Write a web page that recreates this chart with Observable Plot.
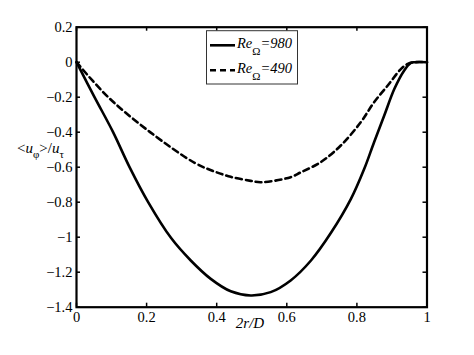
<!DOCTYPE html>
<html>
<head>
<meta charset="utf-8">
<script src="https://cdn.jsdelivr.net/npm/d3@7"></script>
<script src="https://cdn.jsdelivr.net/npm/@observablehq/plot@0.6"></script>
<style>
  html, body { margin: 0; padding: 0; background: #fff; }
  #wrap { position: relative; width: 474px; height: 355px; }
  #chart svg text { font-family: "Liberation Serif", "Times New Roman", serif !important; fill: #000; }
  .serif { font-family: "Liberation Serif", serif; color: #000 !important; }
  #ylab { position: absolute; left: 17px; top: 140px; font-size: 15px; white-space: nowrap; }
  #ylab i { font-style: italic; color: #000; }
  #ylab sub { font-size: 11px; vertical-align: -5px; line-height: 0; color: #000; }
</style>
</head>
<body>
<div id="wrap">
  <div id="chart"></div>
  <div id="ylab" class="serif">&lt;<i>u</i><sub>φ</sub>&gt;/<i>u</i><sub>τ</sub></div>
</div>
<script>
// Re_Ω = 980 (solid)
const x980 = [0, 0.051, 0.104, 0.151, 0.204, 0.270, 0.326, 0.383, 0.44, 0.497, 0.554, 0.611, 0.669, 0.726, 0.783, 0.821, 0.849, 0.878, 0.907, 0.935, 0.954, 0.965, 1];
const y980 = [0, -0.198, -0.398, -0.598, -0.798, -1.005, -1.133, -1.238, -1.309, -1.333, -1.314, -1.247, -1.133, -0.975, -0.781, -0.609, -0.457, -0.305, -0.152, -0.047, -0.004, 0, 0];
// Re_Ω = 490 (dashed)
const x490 = [0, 0.0895, 0.209, 0.337, 0.39, 0.44, 0.497, 0.526, 0.611, 0.64, 0.697, 0.754, 0.811, 0.849, 0.888, 0.926, 0.945, 0.965, 1];
const y490 = [0, -0.198, -0.398, -0.575, -0.622, -0.655, -0.678, -0.686, -0.657, -0.629, -0.571, -0.476, -0.343, -0.229, -0.133, -0.038, -0.01, 0, 0];
const seriesNames = ["980", "490"];
const xTicks = [0, 0.2, 0.4, 0.6, 0.8, 1];
const yTicks = [0.2, 0, -0.2, -0.4, -0.6, -0.8, -1, -1.2, -1.4];
const fmt = d => d === 0 ? "0" : (d < 0 ? "\u2212" : "") + String(Math.abs(d));

const d980 = x980.map((x, i) => ({x, y: y980[i]}));
const d490 = x490.map((x, i) => ({x, y: y490[i]}));

const FONT = "Liberation Serif, Times New Roman, serif";
const W = 474, H = 355, ML = 76, MR = 47.5, MT = 26.7, MB = 48.3;
const innerW = W - ML - MR, innerH = H - MT - MB;
const TL = 4;

const plot = Plot.plot({
  width: W,
  height: H,
  marginLeft: ML,
  marginRight: MR,
  marginTop: MT,
  marginBottom: MB,
  x: {domain: [0, 1]},
  y: {domain: [-1.4, 0.2]},
  marks: [
    Plot.line(d980, {x: "x", y: "y", stroke: "#000", strokeWidth: 2.6, curve: "catmull-rom"}),
    Plot.line(d490, {x: "x", y: "y", stroke: "#000", strokeWidth: 2.6, strokeDasharray: "6,4", curve: "catmull-rom"}),
    Plot.axisX(xTicks, {anchor: "bottom", tickSize: 0, tickPadding: 5, tickFormat: fmt, fontSize: 14.5, fontFamily: FONT, fill: "#000", label: null}),
    Plot.axisY(yTicks, {anchor: "left", tickSize: 0, tickPadding: 4, tickFormat: fmt, fontSize: 14.5, fontFamily: FONT, fill: "#000", label: null}),
    Plot.tickX(xTicks, {x: d => d, insetTop: innerH - TL, stroke: "#000", strokeWidth: 1.5}),
    Plot.tickX(xTicks, {x: d => d, insetBottom: innerH - TL, stroke: "#000", strokeWidth: 1.5}),
    Plot.tickY(yTicks, {y: d => d, insetRight: innerW - TL, stroke: "#000", strokeWidth: 1.5}),
    Plot.tickY(yTicks, {y: d => d, insetLeft: innerW - TL, stroke: "#000", strokeWidth: 1.5}),
    Plot.frame({stroke: "#000", strokeWidth: 2.2})
  ]
});
document.getElementById("chart").appendChild(plot);

const svg = d3.select(plot);
// x-axis label
svg.append("text")
  .attr("x", 250).attr("y", 328)
  .attr("text-anchor", "middle")
  .attr("font-family", FONT)
  .attr("font-style", "italic")
  .attr("font-size", 15)
  .attr("fill", "#000")
  .text("2r/D");

// legend
const lg = svg.append("g");
lg.append("rect").attr("x", 206.5).attr("y", 30.7).attr("width", 91).attr("height", 53.3)
  .attr("fill", "#fff").attr("stroke", "#333").attr("stroke-width", 1);
const rows = [{name: seriesNames[0], dash: null, ly: 45.3}, {name: seriesNames[1], dash: "6,4", ly: 70.3}];
rows.forEach(r => {
  lg.append("line").attr("x1", 210).attr("x2", 235).attr("y1", r.ly).attr("y2", r.ly)
    .attr("stroke", "#000").attr("stroke-width", 2.6).attr("stroke-dasharray", r.dash);
  const t = lg.append("text").attr("x", 237).attr("y", r.ly + 2.5)
    .attr("text-anchor", "start")
    .attr("font-family", FONT).attr("font-style", "italic").attr("font-size", 14.5).attr("fill", "#000");
  t.append("tspan").text("Re");
  t.append("tspan").attr("dy", 7.5).attr("font-style", "normal").attr("font-size", 11).text("Ω");
  t.append("tspan").attr("dy", -7.5).text("=" + r.name);
});
</script>
</body>
</html>
